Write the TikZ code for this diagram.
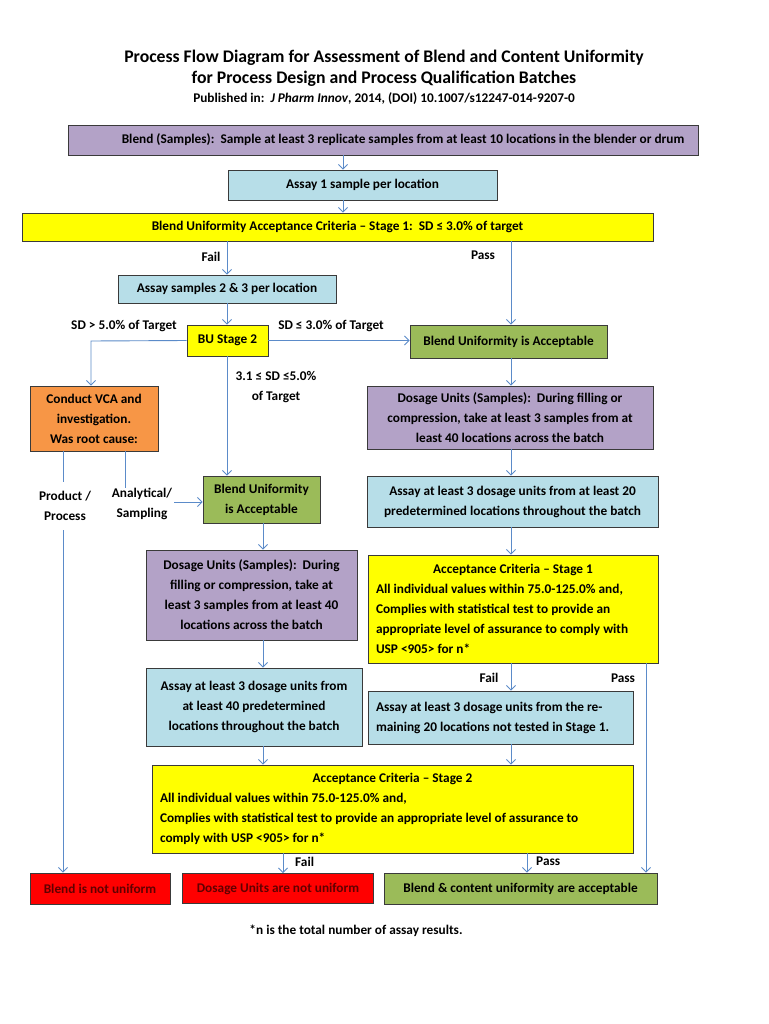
\documentclass[tikz,border=0pt]{standalone}
\usepackage{fontspec}
\setmainfont{Carlito}
\usetikzlibrary{arrows.meta,positioning}
\definecolor{cpurple}{HTML}{B3A2C7}
\definecolor{cblue}{HTML}{B7DEE8}
\definecolor{cyellow}{HTML}{FFFF00}
\definecolor{cgreen}{HTML}{9BBB59}
\definecolor{corange}{HTML}{F79646}
\definecolor{cred}{HTML}{FF0000}
\definecolor{cdarkred}{HTML}{600000}
\definecolor{cborder}{HTML}{3A3A3A}
\definecolor{carrow}{HTML}{5B8BC9}
\tikzset{
  box/.style={draw=cborder, line width=0.9pt, inner sep=0pt, align=center,
    font=\fontsize{13.3}{20}\selectfont\bfseries},
  pbox/.style={box, fill=cpurple},
  bbox/.style={box, fill=cblue},
  ybox/.style={box, fill=cyellow},
  gbox/.style={box, fill=cgreen},
  obox/.style={box, fill=corange},
  rbox/.style={box, fill=cred, text=cdarkred},
  lbl/.style={inner sep=0pt, align=center, font=\fontsize{13.3}{20}\selectfont\bfseries},
  arr/.style={draw=carrow, line width=0.9pt, -{Straight Barb[length=4.5pt,width=9pt]}},
  ln/.style={draw=carrow, line width=0.9pt},
}
\begin{document}
\begin{tikzpicture}[x=1pt, y=-1pt]
\useasboundingbox (0,0) rectangle (768,1024);
\fill[white] (0,0) rectangle (768,1024);

% title
\node[lbl, font=\fontsize{17.7}{21}\selectfont\bfseries] (title) at (384,68.5)
  {Process Flow Diagram for Assessment of Blend and Content Uniformity\\for Process Design and Process Qualification Batches};
\node[lbl] (pub) at (384,99) {Published in:\ \ \textit{J Pharm Innov}, 2014, (DOI) 10.1007/s12247-014-9207-0};

% x positions
\coordinate (xa) at (343,0);
\coordinate (xb) at (227,0);
\coordinate (xc) at (511,0);
\coordinate (xd) at (63,0);
\coordinate (xe) at (125,0);
\coordinate (xf) at (263,0);
\coordinate (xg) at (646,0);
\coordinate (xh) at (283,0);
\coordinate (xi) at (527,0);

% boxes
\node[pbox, minimum width=630, minimum height=30] (blend) at (383,140)
  {\hspace*{40pt}Blend (Samples):\ \ Sample at least 3 replicate samples from at least 10 locations in the blender or drum};
\node[bbox, minimum width=269, minimum height=30] (assay1) at (362.5,185) {Assay 1 sample per location};
\node[ybox, minimum width=631, minimum height=28] (stage1) at (337.5,227)
  {Blend Uniformity Acceptance Criteria -- Stage 1:\ \ SD ≤ 3.0\% of target};
\node[bbox, minimum width=218, minimum height=28] (assay23) at (227,289) {Assay samples 2 \& 3 per location};
\node[ybox, minimum width=81, minimum height=31] (bu2) at (227.5,340.5) {BU Stage 2};
\node[gbox, minimum width=197, minimum height=33] (buacc1) at (508.5,341.5) {Blend Uniformity is Acceptable};
\node[obox, minimum width=128, minimum height=65] (vca) at (94,418.5)
  {Conduct VCA and\\investigation.\\Was root cause:};
\node[gbox, minimum width=117, minimum height=47] (buacc2) at (261.5,499.5)
  {Blend Uniformity\\is Acceptable};
\node[pbox, minimum width=286, minimum height=63] (dos1) at (510,417.5)
  {Dosage Units (Samples):\ \ During filling or\\compression, take at least 3 samples from at\\least 40 locations across the batch};
\node[bbox, minimum width=291, minimum height=51] (assay20) at (512.5,501.5)
  {Assay at least 3 dosage units from at least 20\\predetermined locations throughout the batch};
\node[pbox, minimum width=211, minimum height=90] (dos2) at (251.5,595)
  {Dosage Units (Samples):\ \ During\\filling or compression, take at\\least 3 samples from at least 40\\locations across the batch};
\node[ybox, minimum width=290, minimum height=108] (acc1) at (513,609)
  {\makebox[274pt][c]{Acceptance Criteria -- Stage 1}\\
   \makebox[274pt][l]{All individual values within 75.0-125.0\% and,}\\
   \makebox[274pt][l]{Complies with statistical test to provide an}\\
   \makebox[274pt][l]{appropriate level of assurance to comply with}\\
   \makebox[274pt][l]{USP <905> for n*}};
\node[bbox, minimum width=216, minimum height=78] (assay40) at (254,707)
  {Assay at least 3 dosage units from\\at least 40 predetermined\\locations throughout the batch};
\node[bbox, minimum width=265, minimum height=53] (assayrem) at (500.5,717.5)
  {\makebox[249pt][l]{Assay at least 3 dosage units from the re-}\\
   \makebox[249pt][l]{maining 20 locations not tested in Stage 1.}};
\node[ybox, minimum width=481, minimum height=88] (acc2) at (392.5,809)
  {\makebox[465pt][c]{Acceptance Criteria -- Stage 2}\\
   \makebox[465pt][l]{All individual values within 75.0-125.0\% and,}\\
   \makebox[465pt][l]{Complies with statistical test to provide an appropriate level of assurance to}\\
   \makebox[465pt][l]{comply with USP <905> for n*}};
\node[rbox, minimum width=140, minimum height=31] (nu1) at (100,888.5) {Blend is not uniform};
\node[rbox, minimum width=191, minimum height=30] (nu2) at (278,888.5) {Dosage Units are not uniform};
\node[gbox, minimum width=273, minimum height=31] (final) at (520.5,888.5) {Blend \& content uniformity are acceptable};

% labels
\node[lbl] (lfail1) at (211,257) {Fail};
\node[lbl] (lpass1) at (483,255) {Pass};
\node[lbl] (lsd5) at (124,326) {SD > 5.0\% of Target};
\node[lbl] (lsd3) at (331,326) {SD ≤ 3.0\% of Target};
\node[lbl] (lsdmid) at (276,387.5) {3.1 ≤ SD ≤5.0\%\\of Target};
\node[lbl] (lprod) at (65,505.5) {Product /\\Process};
\node[lbl] (lanal) at (142,503.5) {Analytical/\\Sampling};
\node[lbl] (lfail2) at (489,678) {Fail};
\node[lbl] (lpass2) at (623,678) {Pass};
\node[lbl, anchor=west] (lfail3) at (295,862) {Fail};
\node[lbl, anchor=west] (lpass3) at (536,861) {Pass};
\node[lbl] (foot) at (356,931) {*n is the total number of assay results.};

% coordinates for free ends
\coordinate (prodtop) at (63,482);
\coordinate (prodbot) at (63,530);
\coordinate (analtop) at (125,488);
\coordinate (analout) at (174,502);
\coordinate (leftcorner) at (91,341);

% connectors
\draw[arr] (blend.south -| xa) -- (assay1.north -| xa);
\draw[arr] (assay1.south -| xa) -- (stage1.north -| xa);
\draw[arr] (stage1.south -| xb) -- (assay23.north -| xb);
\draw[arr] (stage1.south -| xc) -- (buacc1.north -| xc);
\draw[arr] (assay23.south -| xb) -- (bu2.north -| xb);
\draw[arr] (bu2.west) -- (leftcorner) -- (vca.north -| leftcorner);
\draw[arr] (bu2.east) -- (buacc1.west |- bu2.east);
\draw[arr] (bu2.south -| xb) -- (buacc2.north -| xb);
\draw[ln] (vca.south -| xd) -- (prodtop);
\draw[arr] (prodbot) -- (nu1.north -| xd);
\draw[ln] (vca.south -| xe) -- (analtop);
\draw[arr] (analout) -- (buacc2.west |- analout);
\draw[arr] (buacc2.south -| xf) -- (dos2.north -| xf);
\draw[arr] (dos2.south -| xf) -- (assay40.north -| xf);
\draw[arr] (assay40.south -| xf) -- (acc2.north -| xf);
\draw[arr] (buacc1.south -| xc) -- (dos1.north -| xc);
\draw[arr] (dos1.south -| xc) -- (assay20.north -| xc);
\draw[arr] (assay20.south -| xc) -- (acc1.north -| xc);
\draw[arr] (acc1.south -| xc) -- (assayrem.north -| xc);
\draw[arr] (assayrem.south -| xc) -- (acc2.north -| xc);
\draw[arr] (acc1.south -| xg) -- (final.north -| xg);
\draw[arr] (acc2.south -| xh) -- (nu2.north -| xh);
\draw[arr] (acc2.south -| xi) -- (final.north -| xi);
\end{tikzpicture}
\end{document}
